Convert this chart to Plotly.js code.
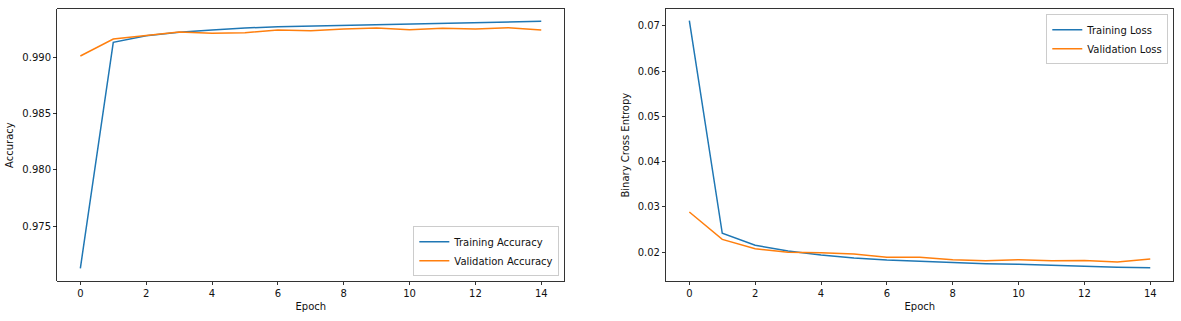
<!DOCTYPE html>
<html>
<head>
<meta charset="utf-8">
<script src="https://cdn.plot.ly/plotly-3.0.1.min.js"></script>
<style>html,body{margin:0;padding:0;background:#fff;}#chart{width:1181px;height:321px;}</style>
</head>
<body>
<div id="chart"></div>
<script>
const epochs = [0,1,2,3,4,5,6,7,8,9,10,11,12,13,14];
const trainAcc = [0.97124,0.99133,0.99192,0.99222,0.99243,0.99261,0.99272,0.99278,0.99284,0.99293,0.99299,0.99306,0.99309,0.99319,0.99320];
const valAcc = [0.99012,0.99163,0.99195,0.99225,0.99213,0.99219,0.99243,0.99237,0.99252,0.99261,0.99246,0.99258,0.99252,0.99263,0.99243];
const trainLoss = [0.07110,0.02419,0.02154,0.02029,0.01940,0.01874,0.01830,0.01801,0.01771,0.01749,0.01735,0.01712,0.01698,0.01668,0.01661];
const valLoss = [0.02889,0.02286,0.02080,0.02000,0.01993,0.01963,0.01889,0.01889,0.01837,0.01815,0.01837,0.01815,0.01822,0.01786,0.01852];
const xTicks = [0,2,4,6,8,10,12,14];

const blue = '#1f77b4', orange = '#ff7f0e';
const font = {family: 'DejaVu Sans', size: 10, color: '#111'};

const traces = [
  {x: epochs, y: trainAcc, name: 'Training Accuracy', mode: 'lines', line: {color: blue, width: 1.5}, xaxis: 'x', yaxis: 'y', legend: 'legend'},
  {x: epochs, y: valAcc, name: 'Validation Accuracy', mode: 'lines', line: {color: orange, width: 1.5}, xaxis: 'x', yaxis: 'y', legend: 'legend'},
  {x: epochs, y: trainLoss, name: 'Training Loss', mode: 'lines', line: {color: blue, width: 1.5}, xaxis: 'x2', yaxis: 'y2', legend: 'legend2'},
  {x: epochs, y: valLoss, name: 'Validation Loss', mode: 'lines', line: {color: orange, width: 1.5}, xaxis: 'x2', yaxis: 'y2', legend: 'legend2'}
];

function xax(domain, anchor) {
  return {
    domain: domain, anchor: anchor, range: [-0.7, 14.7],
    tickmode: 'array', tickvals: xTicks, ticktext: xTicks.map(String),
    ticks: 'outside', ticklen: 3.5, tickwidth: 0.8, tickcolor: '#000',
    showline: true, mirror: true, linecolor: '#000', linewidth: 0.8,
    showgrid: false, zeroline: false, tickfont: font,
    title: {text: 'Epoch', font: font, standoff: 4}, automargin: false
  };
}
function yax(domain, anchor, range, tickvals, ticktext, title, standoff) {
  return {
    domain: domain, anchor: anchor, range: range,
    tickmode: 'array', tickvals: tickvals, ticktext: ticktext,
    ticks: 'outside', ticklen: 3.5, tickwidth: 0.8, tickcolor: '#000',
    showline: true, mirror: true, linecolor: '#000', linewidth: 0.8,
    showgrid: false, zeroline: false, tickfont: font,
    title: {text: title, font: font, standoff: standoff}, automargin: false
  };
}

const yDom = [0.12461, 0.97103];
const layout = {
  width: 1181, height: 321,
  margin: {l: 0, r: 0, t: 0, b: 0},
  paper_bgcolor: '#fff', plot_bgcolor: '#fff',
  font: font,
  xaxis: xax([0.04852, 0.47781], 'y'),
  yaxis: yax(yDom, 'x', [0.97011, 0.99427], [0.975,0.980,0.985,0.990], ['0.975','0.980','0.985','0.990'], 'Accuracy', 6),
  xaxis2: xax([0.56418, 0.99348], 'y2'),
  yaxis2: yax(yDom, 'x2', [0.01367, 0.07362], [0.02,0.03,0.04,0.05,0.06,0.07], ['0.02','0.03','0.04','0.05','0.06','0.07'], 'Binary Cross Entropy', 6),
  legend: {x: 0.4736, y: 0.1393, xanchor: 'right', yanchor: 'bottom', bgcolor: 'rgba(255,255,255,0.8)', bordercolor: '#ccc', borderwidth: 1, font: font, tracegroupgap: 0, itemwidth: 30},
  legend2: {x: 0.98924, y: 0.95545, xanchor: 'right', yanchor: 'top', bgcolor: 'rgba(255,255,255,0.8)', bordercolor: '#ccc', borderwidth: 1, font: font, tracegroupgap: 0, itemwidth: 30},
  showlegend: true
};

Plotly.newPlot('chart', traces, layout, {displayModeBar: false, staticPlot: true});
</script>
</body>
</html>
